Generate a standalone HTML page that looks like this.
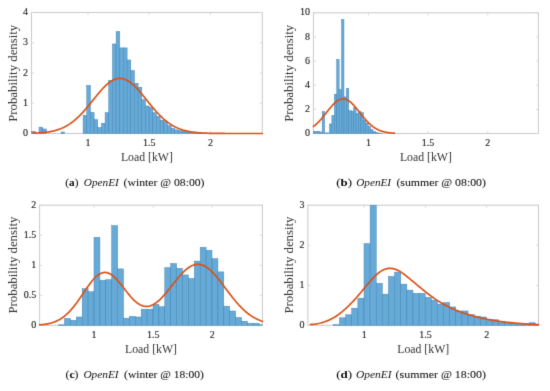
<!DOCTYPE html>
<html><head><meta charset="utf-8"><title>OpenEI load histograms</title>
<style>
html,body{margin:0;padding:0;background:#fff;width:550px;height:391px;overflow:hidden}
svg{display:block}
text{font-family:'Liberation Serif', 'DejaVu Serif', serif}
.tk{font-size:10px;fill:#262626;stroke:#262626;stroke-width:0.15px}
.lab{font-size:12px;fill:#333}
.ylab{font-size:12px;fill:#333}
.cap{font-size:11.4px;fill:#111;stroke:#111;stroke-width:0.08px}
</style></head><body>
<svg width="550" height="391" viewBox="0 0 550 391">
<defs><filter id="soft" x="0" y="0" width="1" height="1" color-interpolation-filters="sRGB"><feConvolveMatrix order="3" kernelMatrix="0.01134 0.08382 0.01134 0.08382 0.61935 0.08382 0.01134 0.08382 0.01134" divisor="1" edgeMode="duplicate"/></filter></defs>
<rect width="550" height="391" fill="#fff"/>
<g filter="url(#soft)">
<rect width="550" height="391" fill="#fff"/>
<rect x="31.50" y="12.50" width="230.80" height="121.00" fill="none" stroke="#c9c9c9" stroke-width="1"/>
<path d="M87.94 133.50v-2.6M87.94 12.50v2.6M149.17 133.50v-2.6M149.17 12.50v2.6M210.39 133.50v-2.6M210.39 12.50v2.6M31.50 133.50h2.6M262.30 133.50h-2.6M31.50 103.25h2.6M262.30 103.25h-2.6M31.50 73.00h2.6M262.30 73.00h-2.6M31.50 42.75h2.6M262.30 42.75h-2.6M31.50 12.50h2.6M262.30 12.50h-2.6" stroke="#d6d6d6" stroke-width="0.9" fill="none"/>
<g fill="#66aad8" stroke="#3f7fb0" stroke-width="0.45"><rect x="31.70" y="131.38" width="3.67" height="2.12"/><rect x="39.04" y="127.15" width="3.67" height="6.35"/><rect x="42.71" y="128.96" width="3.67" height="4.54"/><rect x="61.06" y="131.99" width="3.67" height="1.51"/><rect x="83.08" y="115.35" width="3.67" height="18.15"/><rect x="86.75" y="85.40" width="3.67" height="48.10"/><rect x="90.42" y="112.33" width="3.67" height="21.17"/><rect x="94.09" y="119.58" width="3.67" height="13.92"/><rect x="97.76" y="127.45" width="3.67" height="6.05"/><rect x="101.43" y="123.22" width="3.67" height="10.28"/><rect x="105.10" y="112.63" width="3.67" height="20.87"/><rect x="108.77" y="80.26" width="3.67" height="53.24"/><rect x="112.44" y="43.96" width="3.67" height="89.54"/><rect x="116.11" y="31.56" width="3.67" height="101.94"/><rect x="119.78" y="47.89" width="3.67" height="85.61"/><rect x="123.45" y="47.89" width="3.67" height="85.61"/><rect x="127.12" y="59.99" width="3.67" height="73.51"/><rect x="130.79" y="70.58" width="3.67" height="62.92"/><rect x="134.46" y="83.28" width="3.67" height="50.22"/><rect x="138.13" y="87.22" width="3.67" height="46.28"/><rect x="141.80" y="99.62" width="3.67" height="33.88"/><rect x="145.47" y="105.97" width="3.67" height="27.53"/><rect x="149.14" y="107.48" width="3.67" height="26.02"/><rect x="152.81" y="112.63" width="3.67" height="20.87"/><rect x="156.48" y="116.26" width="3.67" height="17.24"/><rect x="160.15" y="120.19" width="3.67" height="13.31"/><rect x="163.82" y="121.70" width="3.67" height="11.80"/><rect x="167.49" y="125.64" width="3.67" height="7.86"/><rect x="171.16" y="128.36" width="3.67" height="5.14"/><rect x="174.83" y="129.87" width="3.67" height="3.63"/><rect x="178.50" y="130.78" width="3.67" height="2.72"/><rect x="182.17" y="131.08" width="3.67" height="2.42"/><rect x="185.84" y="131.99" width="3.67" height="1.51"/><rect x="189.51" y="132.29" width="3.67" height="1.21"/><rect x="193.18" y="132.59" width="3.67" height="0.91"/><rect x="196.85" y="132.90" width="3.67" height="0.60"/><rect x="200.52" y="133.20" width="3.67" height="0.30"/><rect x="207.86" y="133.20" width="3.67" height="0.30"/></g>
<polyline points="32.97,133.21 34.12,133.17 35.27,133.12 36.43,133.07 37.58,133.01 38.73,132.94 39.88,132.86 41.04,132.77 42.19,132.67 43.34,132.56 44.49,132.44 45.65,132.31 46.80,132.16 47.95,131.99 49.10,131.81 50.26,131.61 51.41,131.39 52.56,131.15 53.71,130.88 54.87,130.59 56.02,130.27 57.17,129.93 58.32,129.55 59.47,129.15 60.63,128.71 61.78,128.24 62.93,127.73 64.08,127.19 65.24,126.60 66.39,125.98 67.54,125.31 68.69,124.60 69.85,123.85 71.00,123.05 72.15,122.21 73.30,121.32 74.46,120.39 75.61,119.41 76.76,118.39 77.91,117.33 79.07,116.22 80.22,115.06 81.37,113.87 82.52,112.64 83.68,111.37 84.83,110.07 85.98,108.74 87.13,107.38 88.29,106.00 89.44,104.59 90.59,103.18 91.74,101.75 92.89,100.31 94.05,98.87 95.20,97.44 96.35,96.02 97.50,94.62 98.66,93.23 99.81,91.88 100.96,90.55 102.11,89.27 103.27,88.03 104.42,86.85 105.57,85.72 106.72,84.65 107.88,83.66 109.03,82.73 110.18,81.89 111.33,81.13 112.49,80.45 113.64,79.87 114.79,79.38 115.94,78.98 117.10,78.69 118.25,78.49 119.40,78.39 120.55,78.40 121.71,78.51 122.86,78.72 124.01,79.03 125.16,79.44 126.31,79.94 127.47,80.54 128.62,81.22 129.77,81.99 130.92,82.85 132.08,83.78 133.23,84.79 134.38,85.86 135.53,87.00 136.69,88.19 137.84,89.43 138.99,90.72 140.14,92.05 141.30,93.41 142.45,94.80 143.60,96.21 144.75,97.63 145.91,99.06 147.06,100.50 148.21,101.93 149.36,103.36 150.52,104.78 151.67,106.18 152.82,107.56 153.97,108.91 155.13,110.24 156.28,111.54 157.43,112.80 158.58,114.03 159.74,115.22 160.89,116.36 162.04,117.47 163.19,118.53 164.34,119.54 165.50,120.52 166.65,121.44 167.80,122.32 168.95,123.16 170.11,123.95 171.26,124.70 172.41,125.40 173.56,126.06 174.72,126.68 175.87,127.26 177.02,127.80 178.17,128.30 179.33,128.77 180.48,129.20 181.63,129.61 182.78,129.98 183.94,130.32 185.09,130.63 186.24,130.92 187.39,131.18 188.55,131.42 189.70,131.64 190.85,131.84 192.00,132.02 193.16,132.18 194.31,132.33 195.46,132.46 196.61,132.58 197.76,132.69 198.92,132.78 200.07,132.87 201.22,132.95 202.37,133.01 203.53,133.07 204.68,133.13 205.83,133.18 206.98,133.22 208.14,133.25 209.29,133.29 210.44,133.32 211.59,133.34 212.75,133.36 213.90,133.38 215.05,133.40 216.20,133.41 217.36,133.43 218.51,133.44 219.66,133.45 220.81,133.45 221.97,133.46 223.12,133.47 224.27,133.47 225.42,133.48 226.58,133.48 227.73,133.48 228.88,133.49 230.03,133.49 231.18,133.49 232.34,133.49 233.49,133.49 234.64,133.49 235.79,133.50 236.95,133.50 238.10,133.50 239.25,133.50 240.40,133.50 241.56,133.50 242.71,133.50 243.86,133.50 245.01,133.50 246.17,133.50 247.32,133.50 248.47,133.50 249.62,133.50 250.78,133.50 251.93,133.50 253.08,133.50 254.23,133.50 255.39,133.50 256.54,133.50 257.69,133.50 258.84,133.50 260.00,133.50 261.15,133.50 262.30,133.50" fill="none" stroke="#d95319" stroke-width="1.7" stroke-linejoin="round" stroke-linecap="round"/>
<text x="87.94" y="146.10" text-anchor="middle" class="tk">1</text>
<text x="149.17" y="146.10" text-anchor="middle" class="tk">1.5</text>
<text x="210.39" y="146.10" text-anchor="middle" class="tk">2</text>
<text x="28.10" y="136.10" text-anchor="end" class="tk">0</text>
<text x="28.10" y="105.85" text-anchor="end" class="tk">1</text>
<text x="28.10" y="75.60" text-anchor="end" class="tk">2</text>
<text x="28.10" y="45.35" text-anchor="end" class="tk">3</text>
<text x="28.10" y="15.10" text-anchor="end" class="tk">4</text>
<text x="146.90" y="160.60" text-anchor="middle" class="lab" textLength="52" lengthAdjust="spacingAndGlyphs">Load [kW]</text>
<rect x="313.40" y="12.80" width="225.00" height="120.70" fill="none" stroke="#c9c9c9" stroke-width="1"/>
<path d="M368.43 133.50v-2.6M368.43 12.80v2.6M428.11 133.50v-2.6M428.11 12.80v2.6M487.79 133.50v-2.6M487.79 12.80v2.6M313.40 133.50h2.6M538.40 133.50h-2.6M313.40 109.36h2.6M538.40 109.36h-2.6M313.40 85.22h2.6M538.40 85.22h-2.6M313.40 61.08h2.6M538.40 61.08h-2.6M313.40 36.94h2.6M538.40 36.94h-2.6M313.40 12.80h2.6M538.40 12.80h-2.6" stroke="#d6d6d6" stroke-width="0.9" fill="none"/>
<g fill="#66aad8" stroke="#3f7fb0" stroke-width="0.45"><rect x="313.40" y="131.57" width="1.52" height="1.93"/><rect x="314.92" y="131.57" width="2.42" height="1.93"/><rect x="317.34" y="131.45" width="2.42" height="2.05"/><rect x="319.76" y="131.93" width="2.42" height="1.57"/><rect x="322.18" y="111.53" width="2.42" height="21.97"/><rect x="324.60" y="132.90" width="2.42" height="0.60"/><rect x="327.02" y="132.90" width="2.42" height="0.60"/><rect x="329.44" y="123.96" width="2.42" height="9.54"/><rect x="331.86" y="115.39" width="2.42" height="18.11"/><rect x="334.28" y="94.27" width="2.42" height="39.23"/><rect x="336.70" y="59.39" width="2.42" height="74.11"/><rect x="339.12" y="89.69" width="2.42" height="43.81"/><rect x="341.54" y="19.56" width="2.42" height="113.94"/><rect x="343.96" y="96.93" width="2.42" height="36.57"/><rect x="346.38" y="88.48" width="2.42" height="45.02"/><rect x="348.80" y="110.57" width="2.42" height="22.93"/><rect x="351.22" y="111.17" width="2.42" height="22.33"/><rect x="353.64" y="107.55" width="2.42" height="25.95"/><rect x="356.06" y="113.34" width="2.42" height="20.16"/><rect x="358.48" y="111.29" width="2.42" height="22.21"/><rect x="360.90" y="112.62" width="2.42" height="20.88"/><rect x="363.32" y="120.22" width="2.42" height="13.28"/><rect x="365.74" y="123.12" width="2.42" height="10.38"/><rect x="368.16" y="126.50" width="2.42" height="7.00"/><rect x="370.58" y="129.64" width="2.42" height="3.86"/><rect x="373.00" y="131.45" width="2.42" height="2.05"/><rect x="375.42" y="132.53" width="2.42" height="0.97"/><rect x="377.84" y="133.02" width="2.42" height="0.48"/><rect x="380.26" y="133.26" width="2.42" height="0.24"/></g>
<polyline points="313.40,126.54 313.94,126.12 314.49,125.69 315.03,125.24 315.58,124.77 316.12,124.29 316.66,123.79 317.21,123.27 317.75,122.74 318.30,122.19 318.84,121.63 319.38,121.05 319.93,120.46 320.47,119.86 321.02,119.24 321.56,118.61 322.10,117.97 322.65,117.32 323.19,116.66 323.73,116.00 324.28,115.32 324.82,114.64 325.37,113.96 325.91,113.27 326.45,112.58 327.00,111.90 327.54,111.21 328.09,110.52 328.63,109.84 329.17,109.17 329.72,108.50 330.26,107.85 330.81,107.20 331.35,106.57 331.89,105.95 332.44,105.34 332.98,104.76 333.53,104.19 334.07,103.65 334.61,103.13 335.16,102.63 335.70,102.16 336.25,101.71 336.79,101.29 337.33,100.90 337.88,100.55 338.42,100.22 338.97,99.93 339.51,99.67 340.05,99.45 340.60,99.26 341.14,99.10 341.69,98.99 342.23,98.91 342.77,98.87 343.32,98.86 343.86,98.89 344.40,98.96 344.95,99.07 345.49,99.21 346.04,99.39 346.58,99.60 347.12,99.85 347.67,100.14 348.21,100.45 348.76,100.80 349.30,101.18 349.84,101.59 350.39,102.03 350.93,102.49 351.48,102.98 352.02,103.50 352.56,104.04 353.11,104.60 353.65,105.18 354.20,105.78 354.74,106.39 355.28,107.02 355.83,107.66 356.37,108.32 356.92,108.98 357.46,109.65 358.00,110.33 358.55,111.02 359.09,111.70 359.64,112.39 360.18,113.08 360.72,113.77 361.27,114.45 361.81,115.13 362.36,115.81 362.90,116.48 363.44,117.14 363.99,117.79 364.53,118.43 365.07,119.06 365.62,119.69 366.16,120.29 366.71,120.89 367.25,121.47 367.79,122.03 368.34,122.59 368.88,123.12 369.43,123.64 369.97,124.15 370.51,124.63 371.06,125.11 371.60,125.56 372.15,126.00 372.69,126.42 373.23,126.83 373.78,127.22 374.32,127.59 374.87,127.94 375.41,128.29 375.95,128.61 376.50,128.92 377.04,129.21 377.59,129.49 378.13,129.76 378.67,130.01 379.22,130.25 379.76,130.48 380.31,130.69 380.85,130.89 381.39,131.08 381.94,131.26 382.48,131.42 383.02,131.58 383.57,131.73 384.11,131.86 384.66,131.99 385.20,132.11 385.74,132.22 386.29,132.33 386.83,132.42 387.38,132.51 387.92,132.60 388.46,132.67 389.01,132.74 389.55,132.81 390.10,132.87 390.64,132.93 391.18,132.98 391.73,133.03 392.27,133.07 392.82,133.11 393.36,133.15 393.90,133.18 394.45,133.21" fill="none" stroke="#d95319" stroke-width="1.7" stroke-linejoin="round" stroke-linecap="round"/>
<text x="368.43" y="146.10" text-anchor="middle" class="tk">1</text>
<text x="428.11" y="146.10" text-anchor="middle" class="tk">1.5</text>
<text x="487.79" y="146.10" text-anchor="middle" class="tk">2</text>
<text x="310.00" y="136.10" text-anchor="end" class="tk">0</text>
<text x="310.00" y="111.96" text-anchor="end" class="tk">2</text>
<text x="310.00" y="87.82" text-anchor="end" class="tk">4</text>
<text x="310.00" y="63.68" text-anchor="end" class="tk">6</text>
<text x="310.00" y="39.54" text-anchor="end" class="tk">8</text>
<text x="310.00" y="15.40" text-anchor="end" class="tk">10</text>
<text x="425.90" y="160.60" text-anchor="middle" class="lab" textLength="52" lengthAdjust="spacingAndGlyphs">Load [kW]</text>
<rect x="39.60" y="205.20" width="222.80" height="120.20" fill="none" stroke="#c9c9c9" stroke-width="1"/>
<path d="M94.09 325.40v-2.6M94.09 205.20v2.6M153.19 325.40v-2.6M153.19 205.20v2.6M212.28 325.40v-2.6M212.28 205.20v2.6M39.60 325.40h2.6M262.40 325.40h-2.6M39.60 295.35h2.6M262.40 295.35h-2.6M39.60 265.30h2.6M262.40 265.30h-2.6M39.60 235.25h2.6M262.40 235.25h-2.6M39.60 205.20h2.6M262.40 205.20h-2.6" stroke="#d6d6d6" stroke-width="0.9" fill="none"/>
<g fill="#66aad8" stroke="#3f7fb0" stroke-width="0.45"><rect x="58.60" y="324.80" width="5.90" height="0.60"/><rect x="64.50" y="318.49" width="5.90" height="6.91"/><rect x="70.40" y="320.29" width="5.90" height="5.11"/><rect x="76.30" y="316.99" width="5.90" height="8.41"/><rect x="82.20" y="288.74" width="5.90" height="36.66"/><rect x="88.10" y="291.74" width="5.90" height="33.66"/><rect x="94.00" y="237.35" width="5.90" height="88.05"/><rect x="99.90" y="280.32" width="5.90" height="45.07"/><rect x="105.80" y="279.72" width="5.90" height="45.68"/><rect x="111.70" y="225.63" width="5.90" height="99.77"/><rect x="117.60" y="268.91" width="5.90" height="56.49"/><rect x="123.50" y="318.19" width="5.90" height="7.21"/><rect x="129.40" y="316.38" width="5.90" height="9.01"/><rect x="135.30" y="316.99" width="5.90" height="8.41"/><rect x="141.20" y="309.17" width="5.90" height="16.23"/><rect x="147.10" y="309.17" width="5.90" height="16.23"/><rect x="153.00" y="304.37" width="5.90" height="21.03"/><rect x="158.90" y="306.77" width="5.90" height="18.63"/><rect x="164.80" y="267.70" width="5.90" height="57.70"/><rect x="170.70" y="263.50" width="5.90" height="61.90"/><rect x="176.60" y="268.31" width="5.90" height="57.09"/><rect x="182.50" y="274.92" width="5.90" height="50.48"/><rect x="188.40" y="278.52" width="5.90" height="46.88"/><rect x="194.30" y="261.09" width="5.90" height="64.31"/><rect x="200.20" y="247.27" width="5.90" height="78.13"/><rect x="206.10" y="250.27" width="5.90" height="75.12"/><rect x="212.00" y="258.69" width="5.90" height="66.71"/><rect x="217.90" y="271.91" width="5.90" height="53.49"/><rect x="223.80" y="306.17" width="5.90" height="19.23"/><rect x="229.70" y="310.98" width="5.90" height="14.42"/><rect x="235.60" y="317.59" width="5.90" height="7.81"/><rect x="241.50" y="321.19" width="5.90" height="4.21"/><rect x="247.40" y="323.30" width="5.90" height="2.10"/><rect x="253.30" y="323.30" width="5.90" height="2.10"/><rect x="259.20" y="324.80" width="3.20" height="0.60"/></g>
<polyline points="39.60,324.85 40.72,324.76 41.84,324.65 42.96,324.53 44.08,324.39 45.20,324.23 46.32,324.05 47.44,323.85 48.56,323.63 49.68,323.37 50.80,323.09 51.92,322.77 53.04,322.42 54.15,322.03 55.27,321.60 56.39,321.12 57.51,320.60 58.63,320.03 59.75,319.41 60.87,318.73 61.99,318.00 63.11,317.21 64.23,316.36 65.35,315.44 66.47,314.47 67.59,313.43 68.71,312.33 69.83,311.16 70.95,309.93 72.07,308.64 73.19,307.30 74.31,305.90 75.43,304.44 76.55,302.94 77.67,301.39 78.79,299.81 79.91,298.20 81.03,296.56 82.14,294.91 83.26,293.25 84.38,291.59 85.50,289.93 86.62,288.30 87.74,286.70 88.86,285.14 89.98,283.62 91.10,282.17 92.22,280.78 93.34,279.47 94.46,278.26 95.58,277.13 96.70,276.12 97.82,275.21 98.94,274.43 100.06,273.77 101.18,273.24 102.30,272.85 103.42,272.59 104.54,272.47 105.66,272.49 106.78,272.64 107.90,272.93 109.02,273.36 110.13,273.91 111.25,274.59 112.37,275.38 113.49,276.28 114.61,277.28 115.73,278.38 116.85,279.56 117.97,280.81 119.09,282.12 120.21,283.48 121.33,284.88 122.45,286.31 123.57,287.76 124.69,289.22 125.81,290.66 126.93,292.10 128.05,293.50 129.17,294.88 130.29,296.20 131.41,297.47 132.53,298.68 133.65,299.83 134.77,300.89 135.89,301.88 137.01,302.77 138.12,303.58 139.24,304.29 140.36,304.90 141.48,305.41 142.60,305.81 143.72,306.11 144.84,306.31 145.96,306.41 147.08,306.40 148.20,306.28 149.32,306.07 150.44,305.75 151.56,305.34 152.68,304.84 153.80,304.24 154.92,303.56 156.04,302.79 157.16,301.94 158.28,301.02 159.40,300.03 160.52,298.97 161.64,297.84 162.76,296.67 163.88,295.44 164.99,294.16 166.11,292.85 167.23,291.50 168.35,290.12 169.47,288.73 170.59,287.31 171.71,285.89 172.83,284.47 173.95,283.04 175.07,281.63 176.19,280.24 177.31,278.86 178.43,277.52 179.55,276.21 180.67,274.94 181.79,273.72 182.91,272.55 184.03,271.44 185.15,270.40 186.27,269.42 187.39,268.52 188.51,267.70 189.63,266.95 190.75,266.30 191.87,265.73 192.98,265.26 194.10,264.88 195.22,264.60 196.34,264.41 197.46,264.33 198.58,264.34 199.70,264.46 200.82,264.67 201.94,264.98 203.06,265.39 204.18,265.89 205.30,266.48 206.42,267.16 207.54,267.93 208.66,268.78 209.78,269.71 210.90,270.72 212.02,271.79 213.14,272.93 214.26,274.13 215.38,275.38 216.50,276.68 217.62,278.03 218.74,279.41 219.86,280.83 220.97,282.27 222.09,283.73 223.21,285.21 224.33,286.70 225.45,288.20 226.57,289.70 227.69,291.19 228.81,292.67 229.93,294.14 231.05,295.60 232.17,297.03 233.29,298.44 234.41,299.82 235.53,301.17 236.65,302.48 237.77,303.76 238.89,305.00 240.01,306.20 241.13,307.36 242.25,308.48 243.37,309.55 244.49,310.58 245.61,311.57 246.73,312.51 247.85,313.41 248.96,314.26 250.08,315.07 251.20,315.84 252.32,316.56 253.44,317.24 254.56,317.88 255.68,318.49 256.80,319.05 257.92,319.58 259.04,320.07 260.16,320.53 261.28,320.96 262.40,321.35" fill="none" stroke="#d95319" stroke-width="1.7" stroke-linejoin="round" stroke-linecap="round"/>
<text x="94.09" y="338.00" text-anchor="middle" class="tk">1</text>
<text x="153.19" y="338.00" text-anchor="middle" class="tk">1.5</text>
<text x="212.28" y="338.00" text-anchor="middle" class="tk">2</text>
<text x="36.20" y="328.00" text-anchor="end" class="tk">0</text>
<text x="36.20" y="297.95" text-anchor="end" class="tk">0.5</text>
<text x="36.20" y="267.90" text-anchor="end" class="tk">1</text>
<text x="36.20" y="237.85" text-anchor="end" class="tk">1.5</text>
<text x="36.20" y="207.80" text-anchor="end" class="tk">2</text>
<text x="151.00" y="352.50" text-anchor="middle" class="lab" textLength="52" lengthAdjust="spacingAndGlyphs">Load [kW]</text>
<rect x="307.90" y="205.20" width="230.60" height="120.20" fill="none" stroke="#c9c9c9" stroke-width="1"/>
<path d="M364.30 325.40v-2.6M364.30 205.20v2.6M425.46 325.40v-2.6M425.46 205.20v2.6M486.63 325.40v-2.6M486.63 205.20v2.6M307.90 325.40h2.6M538.50 325.40h-2.6M307.90 285.33h2.6M538.50 285.33h-2.6M307.90 245.27h2.6M538.50 245.27h-2.6M307.90 205.20h2.6M538.50 205.20h-2.6" stroke="#d6d6d6" stroke-width="0.9" fill="none"/>
<g fill="#66aad8" stroke="#3f7fb0" stroke-width="0.45"><rect x="333.40" y="324.60" width="6.12" height="0.80"/><rect x="339.52" y="317.79" width="6.12" height="7.61"/><rect x="345.64" y="314.78" width="6.12" height="10.62"/><rect x="351.76" y="308.17" width="6.12" height="17.23"/><rect x="357.88" y="298.15" width="6.12" height="27.25"/><rect x="364.00" y="243.66" width="6.12" height="81.74"/><rect x="370.12" y="205.20" width="6.12" height="120.20"/><rect x="376.24" y="283.33" width="6.12" height="42.07"/><rect x="382.36" y="294.15" width="6.12" height="31.25"/><rect x="388.48" y="276.52" width="6.12" height="48.88"/><rect x="394.60" y="272.11" width="6.12" height="53.29"/><rect x="400.72" y="284.13" width="6.12" height="41.27"/><rect x="406.84" y="290.14" width="6.12" height="35.26"/><rect x="412.96" y="293.35" width="6.12" height="32.05"/><rect x="419.08" y="293.35" width="6.12" height="32.05"/><rect x="425.20" y="297.35" width="6.12" height="28.05"/><rect x="431.32" y="300.16" width="6.12" height="25.24"/><rect x="437.44" y="304.16" width="6.12" height="21.24"/><rect x="443.56" y="302.56" width="6.12" height="22.84"/><rect x="449.68" y="306.97" width="6.12" height="18.43"/><rect x="455.80" y="310.98" width="6.12" height="14.42"/><rect x="461.92" y="310.98" width="6.12" height="14.42"/><rect x="468.04" y="314.58" width="6.12" height="10.82"/><rect x="474.16" y="316.18" width="6.12" height="9.22"/><rect x="480.28" y="316.99" width="6.12" height="8.41"/><rect x="486.40" y="319.19" width="6.12" height="6.21"/><rect x="492.52" y="319.79" width="6.12" height="5.61"/><rect x="498.64" y="321.39" width="6.12" height="4.01"/><rect x="504.76" y="322.60" width="6.12" height="2.80"/><rect x="510.88" y="323.60" width="6.12" height="1.80"/><rect x="517.00" y="323.60" width="6.12" height="1.80"/><rect x="523.12" y="323.80" width="6.12" height="1.60"/><rect x="529.24" y="322.80" width="6.12" height="2.60"/><rect x="535.36" y="325.00" width="3.14" height="0.40"/></g>
<polyline points="310.40,324.52 311.55,324.44 312.69,324.35 313.84,324.23 314.98,324.09 316.13,323.92 317.28,323.72 318.42,323.50 319.57,323.25 320.72,322.97 321.86,322.66 323.01,322.32 324.15,321.95 325.30,321.55 326.45,321.12 327.59,320.65 328.74,320.16 329.88,319.63 331.03,319.06 332.18,318.47 333.32,317.83 334.47,317.16 335.62,316.45 336.76,315.71 337.91,314.93 339.05,314.11 340.20,313.25 341.35,312.35 342.49,311.42 343.64,310.45 344.79,309.45 345.93,308.41 347.08,307.34 348.22,306.25 349.37,305.12 350.52,303.96 351.66,302.78 352.81,301.56 353.96,300.33 355.10,299.06 356.25,297.78 357.39,296.47 358.54,295.14 359.69,293.79 360.83,292.42 361.98,291.04 363.13,289.64 364.27,288.25 365.42,286.85 366.56,285.46 367.71,284.09 368.86,282.74 370.00,281.41 371.15,280.12 372.30,278.86 373.44,277.65 374.59,276.49 375.73,275.38 376.88,274.33 378.03,273.35 379.17,272.45 380.32,271.62 381.47,270.88 382.61,270.23 383.76,269.67 384.90,269.21 386.05,268.85 387.20,268.58 388.34,268.41 389.49,268.33 390.64,268.33 391.78,268.43 392.93,268.61 394.07,268.87 395.22,269.22 396.37,269.64 397.51,270.15 398.66,270.73 399.81,271.38 400.95,272.09 402.10,272.85 403.24,273.66 404.39,274.51 405.54,275.39 406.68,276.30 407.83,277.22 408.98,278.16 410.12,279.10 411.27,280.05 412.41,281.00 413.56,281.95 414.71,282.91 415.85,283.87 417.00,284.82 418.15,285.78 419.29,286.73 420.44,287.68 421.58,288.62 422.73,289.56 423.88,290.48 425.02,291.41 426.17,292.32 427.32,293.22 428.46,294.11 429.61,294.98 430.75,295.84 431.90,296.69 433.05,297.52 434.19,298.33 435.34,299.12 436.48,299.90 437.63,300.65 438.78,301.38 439.92,302.09 441.07,302.78 442.22,303.46 443.36,304.11 444.51,304.75 445.65,305.36 446.80,305.96 447.95,306.55 449.09,307.12 450.24,307.67 451.39,308.20 452.53,308.72 453.68,309.23 454.82,309.72 455.97,310.20 457.12,310.66 458.26,311.12 459.41,311.56 460.56,311.98 461.70,312.40 462.85,312.81 463.99,313.20 465.14,313.58 466.29,313.96 467.43,314.33 468.58,314.68 469.73,315.03 470.87,315.37 472.02,315.70 473.16,316.02 474.31,316.33 475.46,316.64 476.60,316.93 477.75,317.22 478.90,317.50 480.04,317.77 481.19,318.04 482.33,318.30 483.48,318.55 484.63,318.79 485.77,319.02 486.92,319.25 488.07,319.48 489.21,319.69 490.36,319.90 491.50,320.10 492.65,320.30 493.80,320.49 494.94,320.67 496.09,320.85 497.24,321.02 498.38,321.19 499.53,321.35 500.67,321.51 501.82,321.66 502.97,321.81 504.11,321.95 505.26,322.09 506.41,322.22 507.55,322.35 508.70,322.47 509.84,322.59 510.99,322.71 512.14,322.82 513.28,322.93 514.43,323.03 515.58,323.13 516.72,323.23 517.87,323.32 519.01,323.42 520.16,323.50 521.31,323.59 522.45,323.67 523.60,323.75 524.75,323.83 525.89,323.91 527.04,323.98 528.18,324.06 529.33,324.13 530.48,324.20 531.62,324.27 532.77,324.33 533.92,324.40 535.06,324.46 536.21,324.53 537.35,324.59 538.50,324.65" fill="none" stroke="#d95319" stroke-width="1.7" stroke-linejoin="round" stroke-linecap="round"/>
<text x="364.30" y="338.00" text-anchor="middle" class="tk">1</text>
<text x="425.46" y="338.00" text-anchor="middle" class="tk">1.5</text>
<text x="486.63" y="338.00" text-anchor="middle" class="tk">2</text>
<text x="304.50" y="328.00" text-anchor="end" class="tk">0</text>
<text x="304.50" y="287.93" text-anchor="end" class="tk">1</text>
<text x="304.50" y="247.87" text-anchor="end" class="tk">2</text>
<text x="304.50" y="207.80" text-anchor="end" class="tk">3</text>
<text x="423.20" y="352.50" text-anchor="middle" class="lab" textLength="52" lengthAdjust="spacingAndGlyphs">Load [kW]</text>
<text transform="translate(16.90,73.30) rotate(-90)" text-anchor="middle" class="ylab" textLength="97" lengthAdjust="spacingAndGlyphs">Probability density</text>
<text transform="translate(293.00,73.30) rotate(-90)" text-anchor="middle" class="ylab" textLength="97" lengthAdjust="spacingAndGlyphs">Probability density</text>
<text transform="translate(16.90,265.00) rotate(-90)" text-anchor="middle" class="ylab" textLength="97" lengthAdjust="spacingAndGlyphs">Probability density</text>
<text transform="translate(293.00,265.00) rotate(-90)" text-anchor="middle" class="ylab" textLength="97" lengthAdjust="spacingAndGlyphs">Probability density</text>
<text x="65.30" y="185.90" class="cap" textLength="13.10" lengthAdjust="spacingAndGlyphs">(<tspan font-weight="bold">a</tspan>)</text>
<text x="83.80" y="185.90" class="cap" font-style="italic" style="stroke:none" textLength="35.00" lengthAdjust="spacingAndGlyphs">OpenEI</text>
<text x="123.60" y="185.90" class="cap" textLength="80.90" lengthAdjust="spacingAndGlyphs">(winter @ 08:00)</text>
<text x="336.30" y="185.90" class="cap" textLength="15.70" lengthAdjust="spacingAndGlyphs">(<tspan font-weight="bold">b</tspan>)</text>
<text x="356.20" y="185.90" class="cap" font-style="italic" style="stroke:none" textLength="34.90" lengthAdjust="spacingAndGlyphs">OpenEI</text>
<text x="396.40" y="185.90" class="cap" textLength="89.50" lengthAdjust="spacingAndGlyphs">(summer @ 08:00)</text>
<text x="65.60" y="378.40" class="cap" textLength="12.90" lengthAdjust="spacingAndGlyphs">(<tspan font-weight="bold">c</tspan>)</text>
<text x="83.40" y="378.40" class="cap" font-style="italic" style="stroke:none" textLength="35.20" lengthAdjust="spacingAndGlyphs">OpenEI</text>
<text x="124.10" y="378.40" class="cap" textLength="79.80" lengthAdjust="spacingAndGlyphs">(winter @ 18:00)</text>
<text x="336.20" y="378.40" class="cap" textLength="15.90" lengthAdjust="spacingAndGlyphs">(<tspan font-weight="bold">d</tspan>)</text>
<text x="355.90" y="378.40" class="cap" font-style="italic" style="stroke:none" textLength="35.60" lengthAdjust="spacingAndGlyphs">OpenEI</text>
<text x="395.60" y="378.40" class="cap" textLength="90.30" lengthAdjust="spacingAndGlyphs">(summer @ 18:00)</text>
</g>
</svg>
</body></html>
